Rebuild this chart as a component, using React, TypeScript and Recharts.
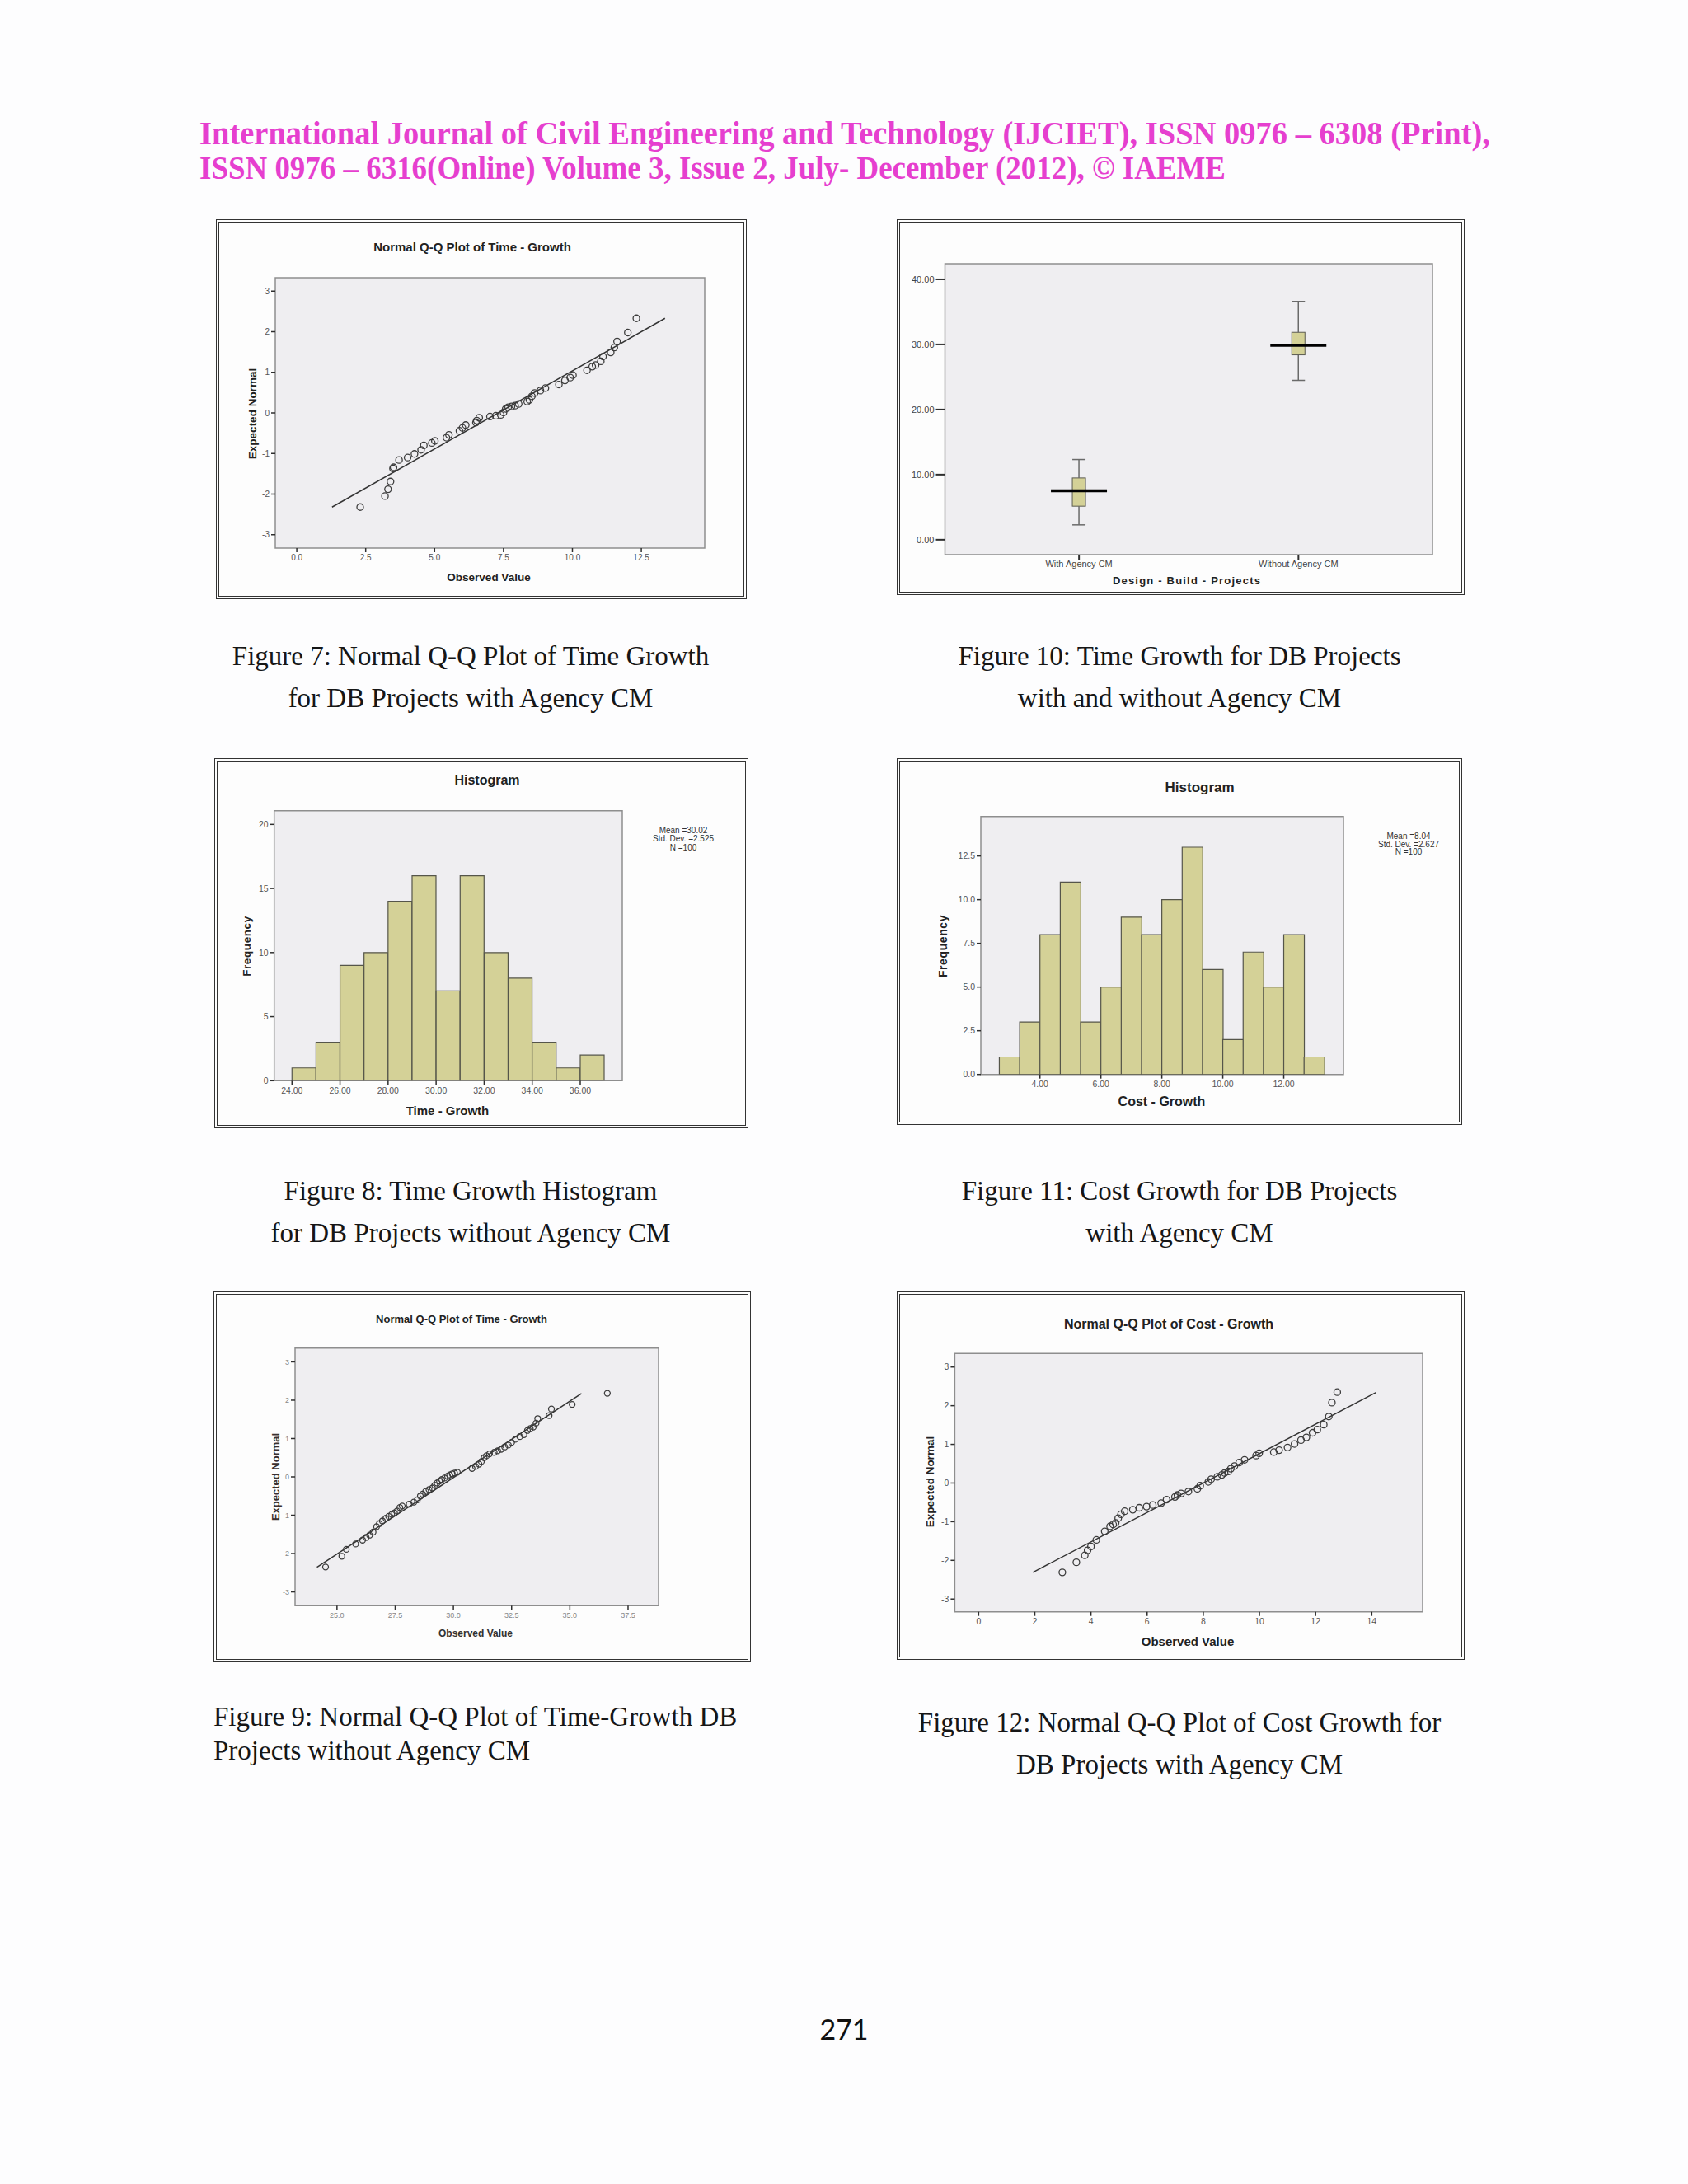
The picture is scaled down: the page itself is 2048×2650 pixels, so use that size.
import React from "react";
import {
  BarChart, Bar, ScatterChart, Scatter, XAxis, YAxis, ReferenceArea, ReferenceLine,
} from "recharts";

// ---- data ----

// Fig 7: Q-Q plot, time growth, DB projects with agency CM
const qqTimeWithObserved = [2.30, 3.20, 3.31, 3.40, 3.49, 3.51, 3.71, 4.02, 4.27, 4.51, 4.61, 4.90, 5.01, 5.43, 5.52, 5.90, 6.01, 6.13, 6.50, 6.53, 6.62, 7.01, 7.22, 7.40, 7.50, 7.58, 7.67, 7.79, 7.92, 8.05, 8.36, 8.44, 8.53, 8.63, 8.84, 9.02, 9.51, 9.73, 9.92, 10.02, 10.53, 10.72, 10.84, 11.03, 11.11, 11.39, 11.52, 11.62, 12.01, 12.32];
const qqTimeWithExpected = [-2.32, -2.05, -1.88, -1.69, -1.37, -1.34, -1.16, -1.10, -1.01, -0.91, -0.80, -0.74, -0.69, -0.61, -0.54, -0.44, -0.37, -0.30, -0.24, -0.19, -0.12, -0.09, -0.07, -0.05, 0.01, 0.10, 0.14, 0.16, 0.18, 0.22, 0.28, 0.32, 0.41, 0.49, 0.55, 0.61, 0.70, 0.80, 0.87, 0.93, 1.05, 1.14, 1.18, 1.27, 1.39, 1.49, 1.61, 1.76, 1.98, 2.33];
const qqTimeWithLineX = [1.28, 13.36];
const qqTimeWithLineY = [-2.32, 2.33];

// Fig 10: box plot of time growth
const boxGroups = ["With Agency CM", "Without Agency CM"];
const boxMin = [2.28, 24.47];
const boxQ1 = [5.15, 28.40];
const boxMedian = [7.51, 29.87];
const boxQ3 = [9.49, 31.86];
const boxMax = [12.32, 36.62];

// Fig 8: histogram of time growth without agency CM
const timeBinCenters = [24.5, 25.5, 26.5, 27.5, 28.5, 29.5, 30.5, 31.5, 32.5, 33.5, 34.5, 35.5, 36.5];
const timeCounts = [1, 3, 9, 10, 14, 16, 7, 16, 10, 8, 3, 1, 2];
const timeStats = ["Mean =30.02", "Std. Dev. =2.525", "N =100"];

// Fig 11: histogram of cost growth with agency CM
const costBinCenters = [3.0, 3.667, 4.333, 5.0, 5.667, 6.333, 7.0, 7.667, 8.333, 9.0, 9.667, 10.333, 11.0, 11.667, 12.333, 13.0];
const costCounts = [1, 3, 8, 11, 3, 5, 9, 8, 10, 13, 6, 2, 7, 5, 8, 1];
const costStats = ["Mean =8.04", "Std. Dev. =2.627", "N =100"];

// Fig 9: Q-Q plot, time growth without agency CM
const qqTimeWithoutObserved = [24.51, 25.21, 25.40, 25.80, 26.10, 26.25, 26.40, 26.55, 26.70, 26.82, 26.95, 27.10, 27.22, 27.35, 27.47, 27.58, 27.70, 27.80, 28.10, 28.30, 28.45, 28.58, 28.68, 28.81, 28.95, 29.10, 29.20, 29.30, 29.40, 29.50, 29.62, 29.75, 29.84, 29.95, 30.05, 30.17, 30.80, 30.95, 31.10, 31.20, 31.32, 31.42, 31.55, 31.75, 31.90, 32.05, 32.20, 32.36, 32.50, 32.66, 32.85, 33.03, 33.18, 33.30, 33.43, 33.55, 33.62, 34.11, 34.21, 35.10, 36.61];
const qqTimeWithoutExpected = [-2.35, -2.07, -1.89, -1.75, -1.65, -1.58, -1.52, -1.44, -1.30, -1.22, -1.15, -1.08, -1.03, -0.98, -0.94, -0.89, -0.80, -0.76, -0.71, -0.66, -0.60, -0.50, -0.45, -0.38, -0.33, -0.29, -0.22, -0.16, -0.11, -0.07, -0.03, 0.02, 0.05, 0.08, 0.10, 0.12, 0.22, 0.27, 0.33, 0.40, 0.50, 0.55, 0.60, 0.64, 0.68, 0.72, 0.78, 0.83, 0.90, 0.98, 1.05, 1.10, 1.21, 1.26, 1.30, 1.40, 1.52, 1.60, 1.77, 1.89, 2.18];
const qqTimeWithoutLineX = [24.14, 35.50];
const qqTimeWithoutLineY = [-2.355, 2.176];

// Fig 12: Q-Q plot, cost growth with agency CM
const qqCostObserved = [2.98, 3.48, 3.78, 3.88, 4.00, 4.19, 4.49, 4.68, 4.79, 4.88, 4.97, 5.07, 5.20, 5.49, 5.72, 5.98, 6.20, 6.50, 6.69, 6.99, 7.08, 7.21, 7.47, 7.79, 7.89, 8.18, 8.28, 8.50, 8.66, 8.76, 8.89, 8.98, 9.11, 9.28, 9.47, 9.88, 9.99, 10.51, 10.70, 11.00, 11.25, 11.48, 11.67, 11.89, 12.06, 12.29, 12.47, 12.58, 12.77];
const qqCostExpected = [-2.31, -2.05, -1.87, -1.74, -1.64, -1.47, -1.25, -1.12, -1.07, -1.03, -0.91, -0.81, -0.73, -0.69, -0.64, -0.61, -0.57, -0.52, -0.43, -0.36, -0.31, -0.27, -0.22, -0.15, -0.07, 0.03, 0.10, 0.16, 0.21, 0.26, 0.30, 0.37, 0.44, 0.53, 0.60, 0.71, 0.77, 0.80, 0.85, 0.92, 1.01, 1.11, 1.18, 1.30, 1.38, 1.51, 1.72, 2.08, 2.35];
const qqCostLineX = [1.93, 14.15];
const qqCostLineY = [-2.31, 2.34];

const expectedTicks = [-3, -2, -1, 0, 1, 2, 3];

const headerLine1 = "International Journal of Civil Engineering and Technology (IJCIET), ISSN 0976 – 6308 (Print),";
const headerLine2 = "ISSN 0976 – 6316(Online) Volume 3, Issue 2, July- December (2012), © IAEME";

// ---- styles ----
const SANS = '"Liberation Sans", Arial, sans-serif';
const SERIF = '"Liberation Serif", "Times New Roman", serif';
const PLOT_BG = "#efeef1";
const PLOT_EDGE = "#8e8e8e";
const BAR_FILL = "#d4d197";
const BAR_EDGE = "#55554a";
const INK = "#2e2e2e";

function Panel({ x, y, w, h, children }: any) {
  return (
    <div style={{ position: "absolute", left: x, top: y, width: w, height: h, background: "#fdfdfd" }}>
      {children}
      <div style={{ position: "absolute", inset: 0, border: "4px double #333", boxSizing: "border-box", pointerEvents: "none" }} />
    </div>
  );
}

function Txt({ x, y, size, bold, rotate, color = "#222", spacing, lh, children }: any) {
  return (
    <div
      style={{
        position: "absolute", left: x, top: y,
        transform: `translate(-50%, -50%)${rotate ? " rotate(-90deg)" : ""}`,
        whiteSpace: "nowrap", fontFamily: SANS, fontSize: size, fontWeight: bold ? 700 : 400,
        color, letterSpacing: spacing, lineHeight: lh ?? 1, textAlign: "center",
      }}
    >
      {children}
    </div>
  );
}

function Caption({ x, y, lines, align = "center", lh = 51 }: any) {
  return (
    <div
      style={{
        position: "absolute", left: x, top: y, transform: align === "center" ? "translateX(-50%)" : undefined,
        fontFamily: SERIF, fontSize: 33, lineHeight: `${lh}px`, color: "#161616",
        textAlign: align, whiteSpace: "nowrap",
      }}
    >
      {lines.map((l: string) => <div key={l}>{l}</div>)}
    </div>
  );
}

function QQPlot({ w, h, margin, observed, expected, lineX, lineY, xDomain, yDomain, xTicks, xFmt, r, tickColor, tickSize, yWidth }: any) {
  const points = observed.map((v: number, i: number) => ({ x: v, y: expected[i] }));
  const tickStyle = { fill: tickColor, fontSize: tickSize, fontFamily: SANS };
  return (
    <ScatterChart width={w} height={h} margin={margin}>
      <ReferenceArea x1={xDomain[0]} x2={xDomain[1]} y1={yDomain[0]} y2={yDomain[1]} fill={PLOT_BG} fillOpacity={1} stroke={PLOT_EDGE} strokeWidth={1.5} />
      <XAxis type="number" dataKey="x" domain={xDomain} allowDataOverflow ticks={xTicks} tickFormatter={xFmt} interval={0}
        axisLine={false} tickLine={{ stroke: INK, strokeWidth: 1.5 }} tickSize={5} tickMargin={3} height={24} tick={tickStyle} />
      <YAxis type="number" dataKey="y" domain={yDomain} allowDataOverflow ticks={expectedTicks} interval={0}
        axisLine={false} tickLine={{ stroke: INK, strokeWidth: 1.5 }} tickSize={5} tickMargin={2} width={yWidth} tick={tickStyle} />
      <ReferenceLine segment={[{ x: lineX[0], y: lineY[0] }, { x: lineX[1], y: lineY[1] }]} stroke="#333" strokeWidth={1.5} />
      <Scatter data={points} isAnimationActive={false}
        shape={(p: any) => <circle cx={p.cx} cy={p.cy} r={r} fill="none" stroke="#3c3c3c" strokeWidth={1.3} />} />
    </ScatterChart>
  );
}

function Histogram({ w, h, margin, centers, counts, xDomain, xTicks, yDomain, yTicks, yFmt, tickSize }: any) {
  const bins = centers.map((c: number, i: number) => ({ x: c, count: counts[i] }));
  const tickStyle = { fill: "#555", fontSize: tickSize, fontFamily: SANS };
  return (
    <BarChart width={w} height={h} data={bins} margin={margin} barCategoryGap={0} barGap={0}>
      <ReferenceArea x1={xDomain[0]} x2={xDomain[1]} y1={yDomain[0]} y2={yDomain[1]} fill={PLOT_BG} fillOpacity={1} stroke={PLOT_EDGE} strokeWidth={1.5} />
      <XAxis type="number" dataKey="x" domain={xDomain} allowDataOverflow ticks={xTicks} tickFormatter={(v: number) => v.toFixed(2)} interval={0}
        axisLine={false} tickLine={{ stroke: INK, strokeWidth: 1.5 }} tickSize={5} tickMargin={3} height={24} tick={tickStyle} />
      <YAxis type="number" domain={yDomain} allowDataOverflow ticks={yTicks} tickFormatter={yFmt} interval={0}
        axisLine={false} tickLine={{ stroke: INK, strokeWidth: 1.5 }} tickSize={5} tickMargin={2} width={30} tick={tickStyle} />
      <Bar dataKey="count" fill={BAR_FILL} stroke={BAR_EDGE} strokeWidth={1.2} isAnimationActive={false} />
    </BarChart>
  );
}

const WHISK = "#6a6a6a";

function whiskerBelow(p: any) {
  const cx = p.x + p.width / 2;
  const bottom = p.y + p.height;
  return (
    <g>
      <line x1={cx} x2={cx} y1={p.y} y2={bottom} stroke={WHISK} strokeWidth={1.5} />
      <line x1={p.x} x2={p.x + p.width} y1={bottom} y2={bottom} stroke={WHISK} strokeWidth={1.5} />
    </g>
  );
}

function whiskerAbove(p: any) {
  const cx = p.x + p.width / 2;
  return (
    <g>
      <line x1={cx} x2={cx} y1={p.y} y2={p.y + p.height} stroke={WHISK} strokeWidth={1.5} />
      <line x1={p.x} x2={p.x + p.width} y1={p.y} y2={p.y} stroke={WHISK} strokeWidth={1.5} />
    </g>
  );
}

function lowerBox(p: any) {
  return <rect x={p.x} y={p.y} width={p.width} height={p.height} fill={BAR_FILL} stroke="#5b5b50" strokeWidth={1} />;
}

function upperBox(p: any) {
  const cx = p.x + p.width / 2;
  const med = p.y + p.height;
  return (
    <g>
      <rect x={p.x} y={p.y} width={p.width} height={p.height} fill={BAR_FILL} stroke="#5b5b50" strokeWidth={1} />
      <line x1={cx - 34} x2={cx + 34} y1={med} y2={med} stroke="#000" strokeWidth={3.5} />
    </g>
  );
}

function BoxPlot() {
  const rows = boxGroups.map((g, i) => ({
    pos: i,
    base: boxMin[i],
    lowW: boxQ1[i] - boxMin[i],
    lowBox: boxMedian[i] - boxQ1[i],
    highBox: boxQ3[i] - boxMedian[i],
    highW: boxMax[i] - boxQ3[i],
  }));
  const xDomain = [-0.611, 1.611];
  const yDomain = [-2.3, 42.4];
  const tickStyle = { fill: "#444", fontSize: 11, fontFamily: SANS };
  return (
    <BarChart width={689} height={456} data={rows} margin={{ top: 54, right: 39, bottom: 24, left: 8.5 }} barSize={16}>
      <ReferenceArea x1={xDomain[0]} x2={xDomain[1]} y1={yDomain[0]} y2={yDomain[1]} fill={PLOT_BG} fillOpacity={1} stroke={PLOT_EDGE} strokeWidth={1.5} />
      <XAxis type="number" dataKey="pos" domain={xDomain} allowDataOverflow ticks={[0, 1]} interval={0}
        tickFormatter={(v: number) => boxGroups[v] ?? ""}
        axisLine={false} tickLine={{ stroke: INK, strokeWidth: 2 }} tickSize={6} tickMargin={1} height={25} tick={tickStyle} />
      <YAxis type="number" domain={yDomain} allowDataOverflow ticks={[0, 10, 20, 30, 40]} interval={0}
        tickFormatter={(v: number) => v.toFixed(2)}
        axisLine={false} tickLine={{ stroke: INK, strokeWidth: 2 }} tickSize={11} tickMargin={2} width={50} tick={tickStyle} />
      <Bar dataKey="base" stackId="box" fill="none" isAnimationActive={false} />
      <Bar dataKey="lowW" stackId="box" shape={whiskerBelow} isAnimationActive={false} />
      <Bar dataKey="lowBox" stackId="box" shape={lowerBox} isAnimationActive={false} />
      <Bar dataKey="highBox" stackId="box" shape={upperBox} isAnimationActive={false} />
      <Bar dataKey="highW" stackId="box" shape={whiskerAbove} isAnimationActive={false} />
    </BarChart>
  );
}

export default function App() {
  return (
    <div style={{ position: "absolute", left: 0, top: 0, width: 2048, height: 2650, background: "#fdfdfe", overflow: "hidden" }}>
      <svg width={2048} height={240} style={{ position: "absolute", left: 0, top: 0 }}>
        <text x={242} y={175} textLength={1566} lengthAdjust="spacingAndGlyphs" fontFamily={SERIF} fontWeight={700} fontSize={39} fill="#e63fcf">{headerLine1}</text>
        <text x={242} y={217} textLength={1245} lengthAdjust="spacingAndGlyphs" fontFamily={SERIF} fontWeight={700} fontSize={39} fill="#e63fcf">{headerLine2}</text>
      </svg>

      {/* Fig 7 */}
      <Panel x={262} y={266} w={644} h={461}>
        <QQPlot w={644} h={461} margin={{ top: 71, right: 51, bottom: 38, left: 44 }}
          observed={qqTimeWithObserved} expected={qqTimeWithExpected} lineX={qqTimeWithLineX} lineY={qqTimeWithLineY}
          xDomain={[-0.78, 14.8]} yDomain={[-3.33, 3.33]} xTicks={[0, 2.5, 5, 7.5, 10, 12.5]} xFmt={(v: number) => v.toFixed(1)}
          r={4} tickColor="#555" tickSize={10} yWidth={28} />
        <Txt x={311} y={33} size={15} bold>Normal Q-Q Plot of Time - Growth</Txt>
        <Txt x={45} y={236} size={13.5} bold rotate>Expected Normal</Txt>
        <Txt x={331} y={435} size={13.5} bold>Observed Value</Txt>
      </Panel>

      {/* Fig 10 */}
      <Panel x={1088} y={266} w={689} h={456}>
        <BoxPlot />
        <Txt x={352} y={438} size={13} bold spacing={1.2}>Design - Build - Projects</Txt>
      </Panel>

      {/* Fig 8 */}
      <Panel x={260} y={920} w={648} h={449}>
        <Histogram w={648} h={449} margin={{ top: 63.7, right: 153, bottom: 33.7, left: 42.7 }}
          centers={timeBinCenters} counts={timeCounts} xDomain={[23.26, 37.75]} xTicks={[24, 26, 28, 30, 32, 34, 36]}
          yDomain={[0, 21.07]} yTicks={[0, 5, 10, 15, 20]} yFmt={(v: number) => String(v)} tickSize={10.5} />
        <Txt x={331} y={27} size={16} bold>Histogram</Txt>
        <Txt x={569} y={98.5} size={10} lh="10.5px" color="#333">{timeStats.map((s) => <div key={s}>{s}</div>)}</Txt>
        <Txt x={39.5} y={228} size={13.5} bold rotate spacing={0.6}>Frequency</Txt>
        <Txt x={283} y={427} size={15} bold>Time - Growth</Txt>
      </Panel>

      {/* Fig 11 */}
      <Panel x={1088} y={920} w={686} h={445}>
        <Histogram w={686} h={445} margin={{ top: 70.7, right: 144, bottom: 37.3, left: 72 }}
          centers={costBinCenters} counts={costCounts} xDomain={[2.06, 13.96]} xTicks={[4, 6, 8, 10, 12]}
          yDomain={[0, 14.76]} yTicks={[0, 2.5, 5, 7.5, 10, 12.5]} yFmt={(v: number) => v.toFixed(1)} tickSize={10.5} />
        <Txt x={367.6} y={35} size={17} bold>Histogram</Txt>
        <Txt x={621} y={104.3} size={10} lh="9.5px" color="#333">{costStats.map((s) => <div key={s}>{s}</div>)}</Txt>
        <Txt x={56} y={228} size={14} bold rotate spacing={0.6}>Frequency</Txt>
        <Txt x={321.5} y={417} size={16} bold>Cost - Growth</Txt>
      </Panel>

      {/* Fig 9 */}
      <Panel x={259} y={1567} w={652} h={450}>
        <QQPlot w={652} h={450} margin={{ top: 68.7, right: 112, bottom: 44.7, left: 69 }}
          observed={qqTimeWithoutObserved} expected={qqTimeWithoutExpected} lineX={qqTimeWithoutLineX} lineY={qqTimeWithoutLineY}
          xDomain={[23.2, 38.81]} yDomain={[-3.36, 3.36]} xTicks={[25, 27.5, 30, 32.5, 35, 37.5]} xFmt={(v: number) => v.toFixed(1)}
          r={3.5} tickColor="#888" tickSize={9} yWidth={30} />
        <Txt x={301} y={33} size={13} bold>Normal Q-Q Plot of Time - Growth</Txt>
        <Txt x={75} y={225} size={13} bold rotate color="#3a3030">Expected Normal</Txt>
        <Txt x={318} y={415} size={12} bold color="#333">Observed Value</Txt>
      </Panel>

      {/* Fig 12 */}
      <Panel x={1088} y={1567} w={689} h={447}>
        <QQPlot w={689} h={447} margin={{ top: 75.3, right: 51, bottom: 34.3, left: 42.4 }}
          observed={qqCostObserved} expected={qqCostExpected} lineX={qqCostLineX} lineY={qqCostLineY}
          xDomain={[-0.85, 15.81]} yDomain={[-3.33, 3.35]} xTicks={[0, 2, 4, 6, 8, 10, 12, 14]} xFmt={(v: number) => String(v)}
          r={4} tickColor="#555" tickSize={10.5} yWidth={28} />
        <Txt x={330} y={39.7} size={16} bold>Normal Q-Q Plot of Cost - Growth</Txt>
        <Txt x={41} y={231} size={13.5} bold rotate>Expected Normal</Txt>
        <Txt x={353} y={423.7} size={15} bold>Observed Value</Txt>
      </Panel>

      <Caption x={571} y={770.5} lines={["Figure 7: Normal Q-Q Plot of Time Growth", "for DB Projects with Agency CM"]} />
      <Caption x={1431} y={770.5} lines={["Figure 10: Time Growth for DB Projects", "with and without Agency CM"]} />
      <Caption x={571} y={1419.5} lines={["Figure 8: Time Growth Histogram", "for DB Projects without Agency CM"]} />
      <Caption x={1431} y={1419.5} lines={["Figure 11: Cost Growth for DB Projects", "with Agency CM"]} />
      <Caption x={259} y={2063} align="left" lh={41} lines={["Figure 9: Normal Q-Q Plot of Time-Growth DB", "Projects without Agency CM"]} />
      <Caption x={1431} y={2064.5} lines={["Figure 12: Normal Q-Q Plot of Cost Growth for", "DB Projects with Agency CM"]} />

      <div style={{ position: "absolute", left: 1024, top: 2462, transform: "translate(-50%, -50%)", fontFamily: "Lato, 'Open Sans', sans-serif", fontSize: 34, color: "#111", lineHeight: 1 }}>271</div>
    </div>
  );
}
